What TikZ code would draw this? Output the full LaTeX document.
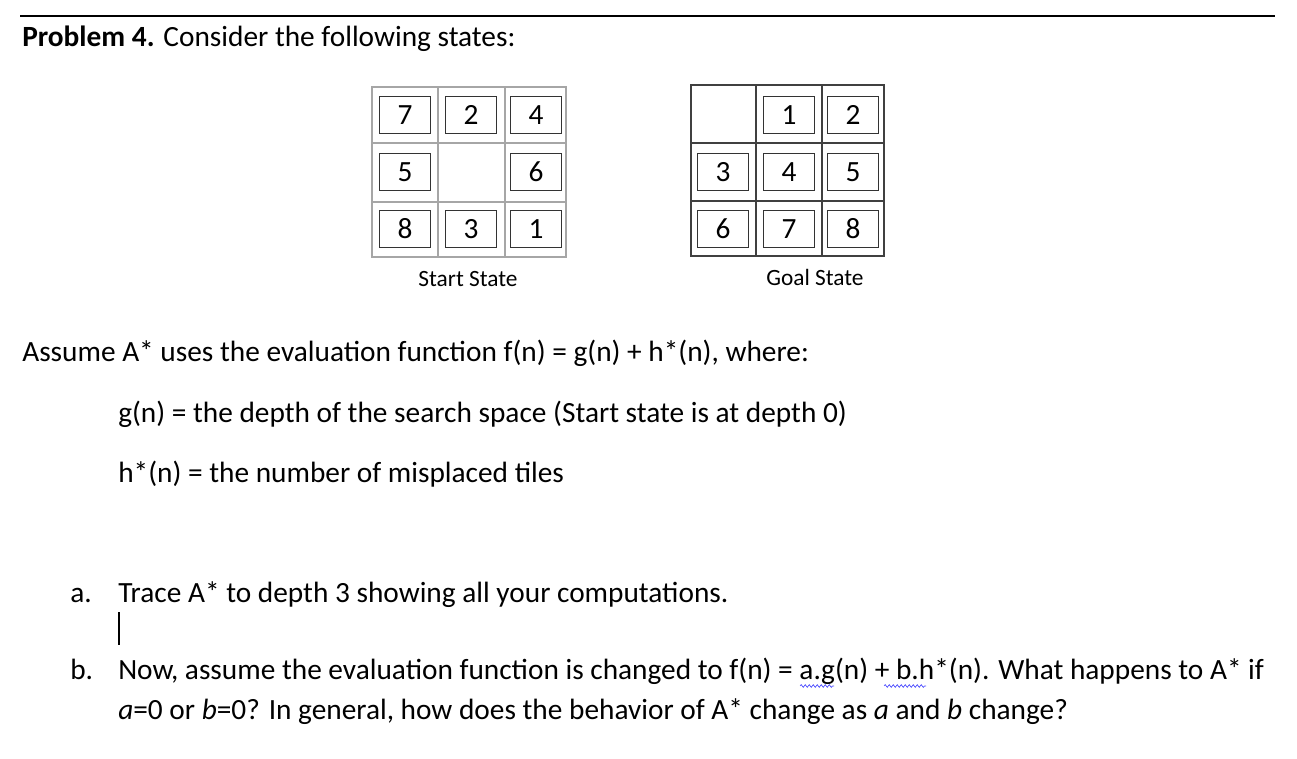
\documentclass[tikz,border=0pt]{standalone}
\usepackage{fontspec}
\setmainfont{Carlito}
\usetikzlibrary{decorations.pathmorphing}
\begin{document}
\begin{tikzpicture}[x=0.75pt,y=-0.75pt,
  txt/.style={anchor=base west,inner sep=0pt,font=\fontsize{22}{26}\selectfont},
  lbl/.style={anchor=base,inner sep=0pt,font=\fontsize{17.5}{20}\selectfont},
  cell/.style={draw=gray!70,line width=1.2pt},
  tile/.style={draw=black!80,line width=0.9pt,minimum width=38pt,minimum height=28pt,inner sep=0pt,font=\fontsize{22}{24}\selectfont}]
\useasboundingbox (0,0) rectangle (1297,759);
\draw[line width=0.8pt] (20,16) -- (1275,16);
\node[txt] (title) at (22,47) {\textbf{Problem 4.} Consider the following states:};
% start grid
\foreach \r/\ya/\yb in {0/87/143,1/143/202,2/202/257}{
 \foreach \c/\xa/\xb in {0/372/438,1/438/505,2/505/566}{
  \draw[cell] (\xa,\ya) rectangle (\xb,\yb);}}
\foreach \n/\x/\y in {7/405/115,2/471/115,4/536/115,5/405/172,6/536/172,8/405/229,3/471/229,1/536/229}
  \node[tile] (s\n) at (\x,\y) {\n};
\node[lbl] (sl) at (468,287) {Start State};
% goal grid
\foreach \r/\ya/\yb in {0/85/143,1/143/201,2/201/256}{
 \foreach \c/\xa/\xb in {0/691/756,1/756/822,2/822/884}{
  \draw[cell,draw=black!75,line width=0.9pt] (\xa,\ya) rectangle (\xb,\yb);}}
\foreach \n/\x/\y in {1/789/115,2/853/115,3/723/172,4/789/172,5/853/172,6/723/229,7/789/229,8/853/229}
  \node[tile] (g\n) at (\x,\y) {\n};
\node[lbl] (gl) at (815,286) {Goal State};
\node[txt] (t1) at (22,362) {Assume A* uses the evaluation function f(n) = g(n) + h*(n), where:};
\node[txt] (t2) at (118,422) {g(n) = the depth of the search space (Start state is at depth 0)};
\node[txt] (t3) at (118,482) {h*(n) = the number of misplaced tiles};
\node[txt] (a) at (70,602) {a.};
\node[txt] (ta) at (118,602) {Trace A* to depth 3 showing all your computations.};
\draw[line width=0.8pt] (119,612) -- (119,645);
\node[txt] (b) at (70,679) {b.};
\node[txt] (tb) at (118,679) {Now, assume the evaluation function is changed to f(n) = a.g(n) + b.h*(n). What happens to A* if};
\node[txt] (tc) at (118,719) {\textit{a}=0 or \textit{b}=0? In general, how does the behavior of A* change as \textit{a} and \textit{b} change?};
\draw[blue!70,line width=0.5pt,decorate,decoration={snake,amplitude=1pt,segment length=3pt}] (800,686) -- (834,686);
\draw[blue!70,line width=0.5pt,decorate,decoration={snake,amplitude=1pt,segment length=3pt}] (884,686) -- (926,686);
\end{tikzpicture}
\end{document}
